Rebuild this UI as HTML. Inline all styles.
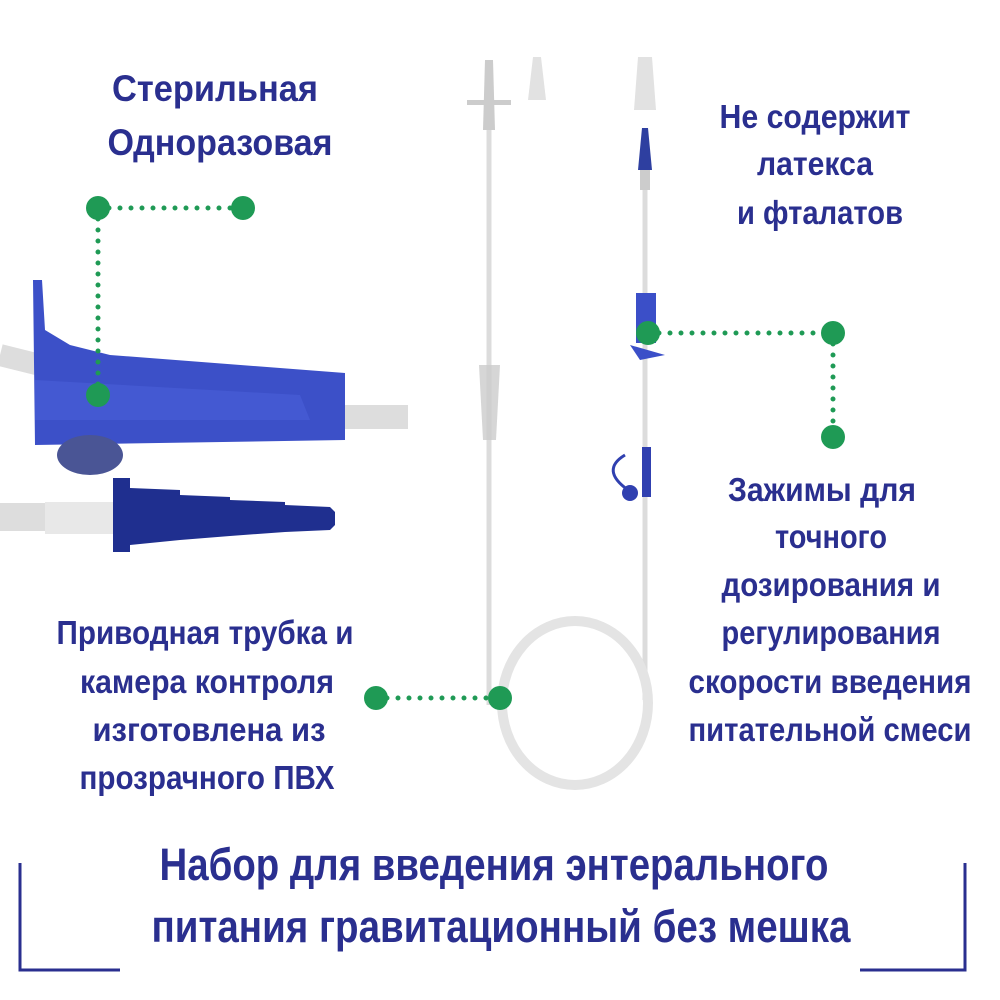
<!DOCTYPE html>
<html><head><meta charset="utf-8"><style>
html,body{margin:0;padding:0;background:#fff;}
svg{display:block}
text{font-family:"Liberation Sans",sans-serif;fill:#2a2f8f;text-anchor:middle;font-weight:bold;}
</style></head><body>
<svg width="1000" height="1000" viewBox="0 0 1000 1000">
<g stroke="#dcdcdc" fill="none">
<line x1="489" y1="60" x2="489" y2="705" stroke-width="5"/>
<line x1="645" y1="150" x2="645" y2="700" stroke-width="5"/>
<ellipse cx="575" cy="703" rx="73" ry="82" stroke-width="10" stroke="#e4e4e4"/>
<line x1="0" y1="355" x2="40" y2="365" stroke-width="22" stroke="#ddd"/>
<line x1="340" y1="417" x2="408" y2="417" stroke-width="24" stroke="#ddd"/>
<line x1="0" y1="517" x2="50" y2="517" stroke-width="28" stroke="#ddd"/>
</g>
<polygon points="485,60 493,60 495,130 483,130" fill="#ccc"/>
<rect x="467" y="100" width="44" height="5" fill="#ccc"/>
<polygon points="533,57 541,57 546,100 528,100" fill="#e2e2e2"/>
<polygon points="638,57 652,57 656,110 634,110" fill="#e2e2e2"/>
<polygon points="479,365 500,365 496,440 483,440" fill="#ccc" opacity=".8"/>
<polygon points="642,128 648,128 652,170 638,170" fill="#2e3fa0"/>
<rect x="640" y="170" width="10" height="20" fill="#ccc"/>
<rect x="636" y="293" width="20" height="50" fill="#3b4fc8"/>
<polygon points="630,345 665,355 640,360" fill="#3b4fc8"/>
<rect x="642" y="447" width="9" height="50" fill="#3040b0"/>
<circle cx="630" cy="493" r="8" fill="#3040b0"/>
<path d="M628,490 Q600,470 625,455" stroke="#3040b0" stroke-width="3" fill="none"/>
<polygon points="33,280 42,280 45,330 70,345 110,355 345,373 345,440 35,445" fill="#3c50c8"/>
<polygon points="35,380 300,395 310,420 35,420" fill="#4a5fd8" opacity=".6"/>
<ellipse cx="90" cy="455" rx="33" ry="20" fill="#4a5595"/>
<rect x="45" y="502" width="70" height="32" fill="#e8e8e8"/>
<polygon points="113,478 130,478 130,488 180,490 180,495 230,497 230,500 285,502 285,505 330,507 335,512 335,525 330,530 285,532 230,536 180,540 130,545 130,552 113,552" fill="#1f2f8f"/>
<g stroke="#1f9a55" stroke-width="5" stroke-dasharray="0 11" stroke-linecap="round" fill="none">
<line x1="98" y1="208" x2="243" y2="208"/>
<line x1="98" y1="208" x2="98" y2="395"/>
<line x1="648" y1="333" x2="833" y2="333"/>
<line x1="833" y1="333" x2="833" y2="437"/>
<line x1="376" y1="698" x2="500" y2="698"/>
</g>
<g fill="#1f9a55">
<circle cx="98" cy="208" r="12"/><circle cx="243" cy="208" r="12"/><circle cx="98" cy="395" r="12"/>
<circle cx="648" cy="333" r="12"/><circle cx="833" cy="333" r="12"/><circle cx="833" cy="437" r="12"/>
<circle cx="376" cy="698" r="12"/><circle cx="500" cy="698" r="12"/>
</g>
<g font-size="37" lengthAdjust="spacingAndGlyphs">
<text x="215" y="101" textLength="206" lengthAdjust="spacingAndGlyphs">Стерильная</text>
<text x="220" y="155" textLength="225" lengthAdjust="spacingAndGlyphs">Одноразовая</text>
</g>
<g font-size="33">
<text x="815" y="128" textLength="191" lengthAdjust="spacingAndGlyphs">Не содержит</text>
<text x="815" y="175" textLength="116" lengthAdjust="spacingAndGlyphs">латекса</text>
<text x="820" y="224" textLength="166" lengthAdjust="spacingAndGlyphs">и фталатов</text>
<text x="822" y="501" textLength="188" lengthAdjust="spacingAndGlyphs">Зажимы для</text>
<text x="831" y="548" textLength="112" lengthAdjust="spacingAndGlyphs">точного</text>
<text x="831" y="596" textLength="219" lengthAdjust="spacingAndGlyphs">дозирования и</text>
<text x="831" y="644" textLength="219" lengthAdjust="spacingAndGlyphs">регулирования</text>
<text x="830" y="693" textLength="283" lengthAdjust="spacingAndGlyphs">скорости введения</text>
<text x="830" y="741" textLength="283" lengthAdjust="spacingAndGlyphs">питательной смеси</text>
<text x="205" y="644" textLength="297" lengthAdjust="spacingAndGlyphs">Приводная трубка и</text>
<text x="207" y="693" textLength="254" lengthAdjust="spacingAndGlyphs">камера контроля</text>
<text x="209" y="741" textLength="233" lengthAdjust="spacingAndGlyphs">изготовлена из</text>
<text x="207" y="789" textLength="255" lengthAdjust="spacingAndGlyphs">прозрачного ПВХ</text>
</g>
<g font-size="45">
<text x="494" y="880" textLength="669" lengthAdjust="spacingAndGlyphs">Набор для введения энтерального</text>
<text x="501" y="942" textLength="699" lengthAdjust="spacingAndGlyphs">питания гравитационный без мешка</text>
</g>
<g stroke="#2a2f8f" stroke-width="3" fill="none">
<polyline points="20,863 20,970 120,970"/>
<polyline points="965,863 965,970 860,970"/>
</g>
</svg>
</body></html>
